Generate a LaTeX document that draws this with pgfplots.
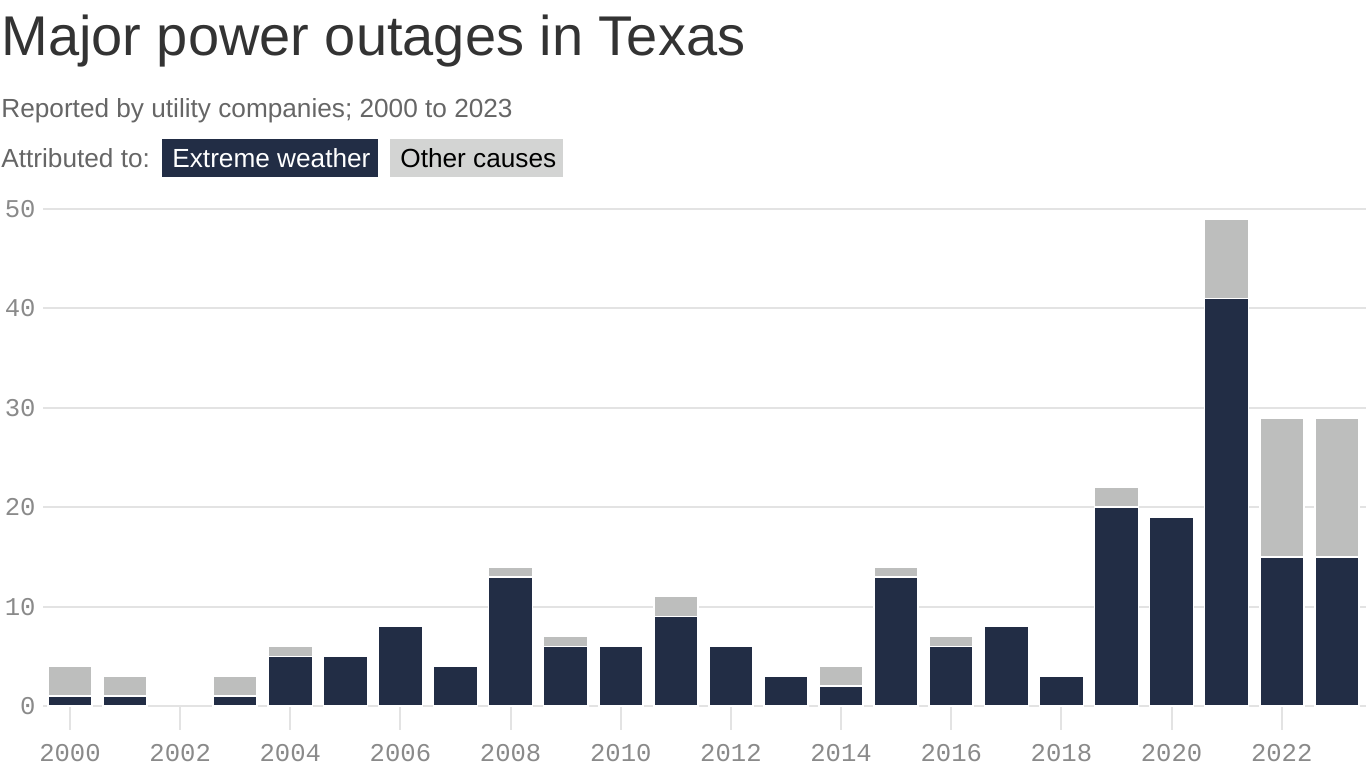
\documentclass[border=0pt]{standalone}
\usepackage{pgfplots}
\pgfplotsset{compat=1.18}
\usepackage{fontspec}
\setmainfont{Liberation Sans}
\newfontfamily\tickfont{Liberation Mono}
\definecolor{navy}{HTML}{222D45}
\definecolor{othergray}{HTML}{BDBEBD}
\definecolor{legendgray}{HTML}{D3D4D3}
\definecolor{titlecol}{HTML}{333333}
\definecolor{subcol}{HTML}{666666}
\definecolor{tickcol}{HTML}{8A8A8A}
\definecolor{gridcol}{HTML}{E3E3E3}

\pgfplotstableread{
year extreme other
2000 1 3
2001 1 2
2003 1 2
2004 5 1
2005 5 0
2006 8 0
2007 4 0
2008 13 1
2009 6 1
2010 6 0
2011 9 2
2012 6 0
2013 3 0
2014 2 2
2015 13 1
2016 6 1
2017 8 0
2018 3 0
2019 20 2
2020 19 0
2021 41 8
2022 15 14
2023 15 14
}\datatable

\begin{document}
\begin{tikzpicture}
\path[use as bounding box] (0,0) rectangle (683pt,384pt);
\node[anchor=base west, inner sep=0pt, text=titlecol, font=\fontsize{28}{30}\selectfont] at (0.5pt,356pt) {Major power outages in Texas};
\node[anchor=base west, inner sep=0pt, text=subcol, font=\fontsize{13.1}{15}\selectfont] at (0.5pt,325.5pt) {Reported by utility companies; 2000 to 2023};
\node[anchor=base west, inner sep=0pt, text=subcol, font=\fontsize{13.1}{15}\selectfont] at (0.5pt,300.5pt) {Attributed to:};
\fill[navy] (81pt,295.5pt) rectangle (189pt,314.5pt);
\node[anchor=base west, inner sep=0pt, text=white, font=\fontsize{13.1}{15}\selectfont] at (86pt,300.5pt) {Extreme weather};
\fill[legendgray] (195pt,295.5pt) rectangle (281.5pt,314.5pt);
\node[anchor=base west, inner sep=0pt, text=black, font=\fontsize{13.1}{15}\selectfont] at (200pt,300.5pt) {Other causes};

\begin{axis}[
  at={(21.5pt,31pt)}, anchor=south west,
  scale only axis, width=661.5pt, height=248.5pt,
  xmin=1999.51, xmax=2023.53, ymin=0, ymax=50,
  ybar stacked, bar width=0.8,
  axis line style={draw=none},
  xtick={2000,2002,...,2022}, ytick={0,10,...,50},
  xtick pos=bottom, ytick pos=left,
  tick align=outside, major tick length=12pt,
  x tick style={draw=gridcol, line width=1pt},
  y tick style={draw=none},
  ymajorgrids, grid style={draw=gridcol, line width=1pt},
  /pgf/number format/assume math mode=true,
  x tick label style={font=\fontsize{12.8}{14}\tickfont, text=tickcol, /pgf/number format/1000 sep={}},
  y tick label style={font=\fontsize{12.8}{14}\tickfont, text=tickcol, anchor=east, inner sep=0pt, xshift=8.5pt},
  xticklabel style={yshift=-3.5pt},
  clip=false,
]
\addplot[fill=navy, draw=white, line width=0.8pt] table[x=year, y=extreme] {\datatable};
\addplot[fill=othergray, draw=white, line width=0.8pt] table[x=year, y=other] {\datatable};
\end{axis}
\end{tikzpicture}
\end{document}
